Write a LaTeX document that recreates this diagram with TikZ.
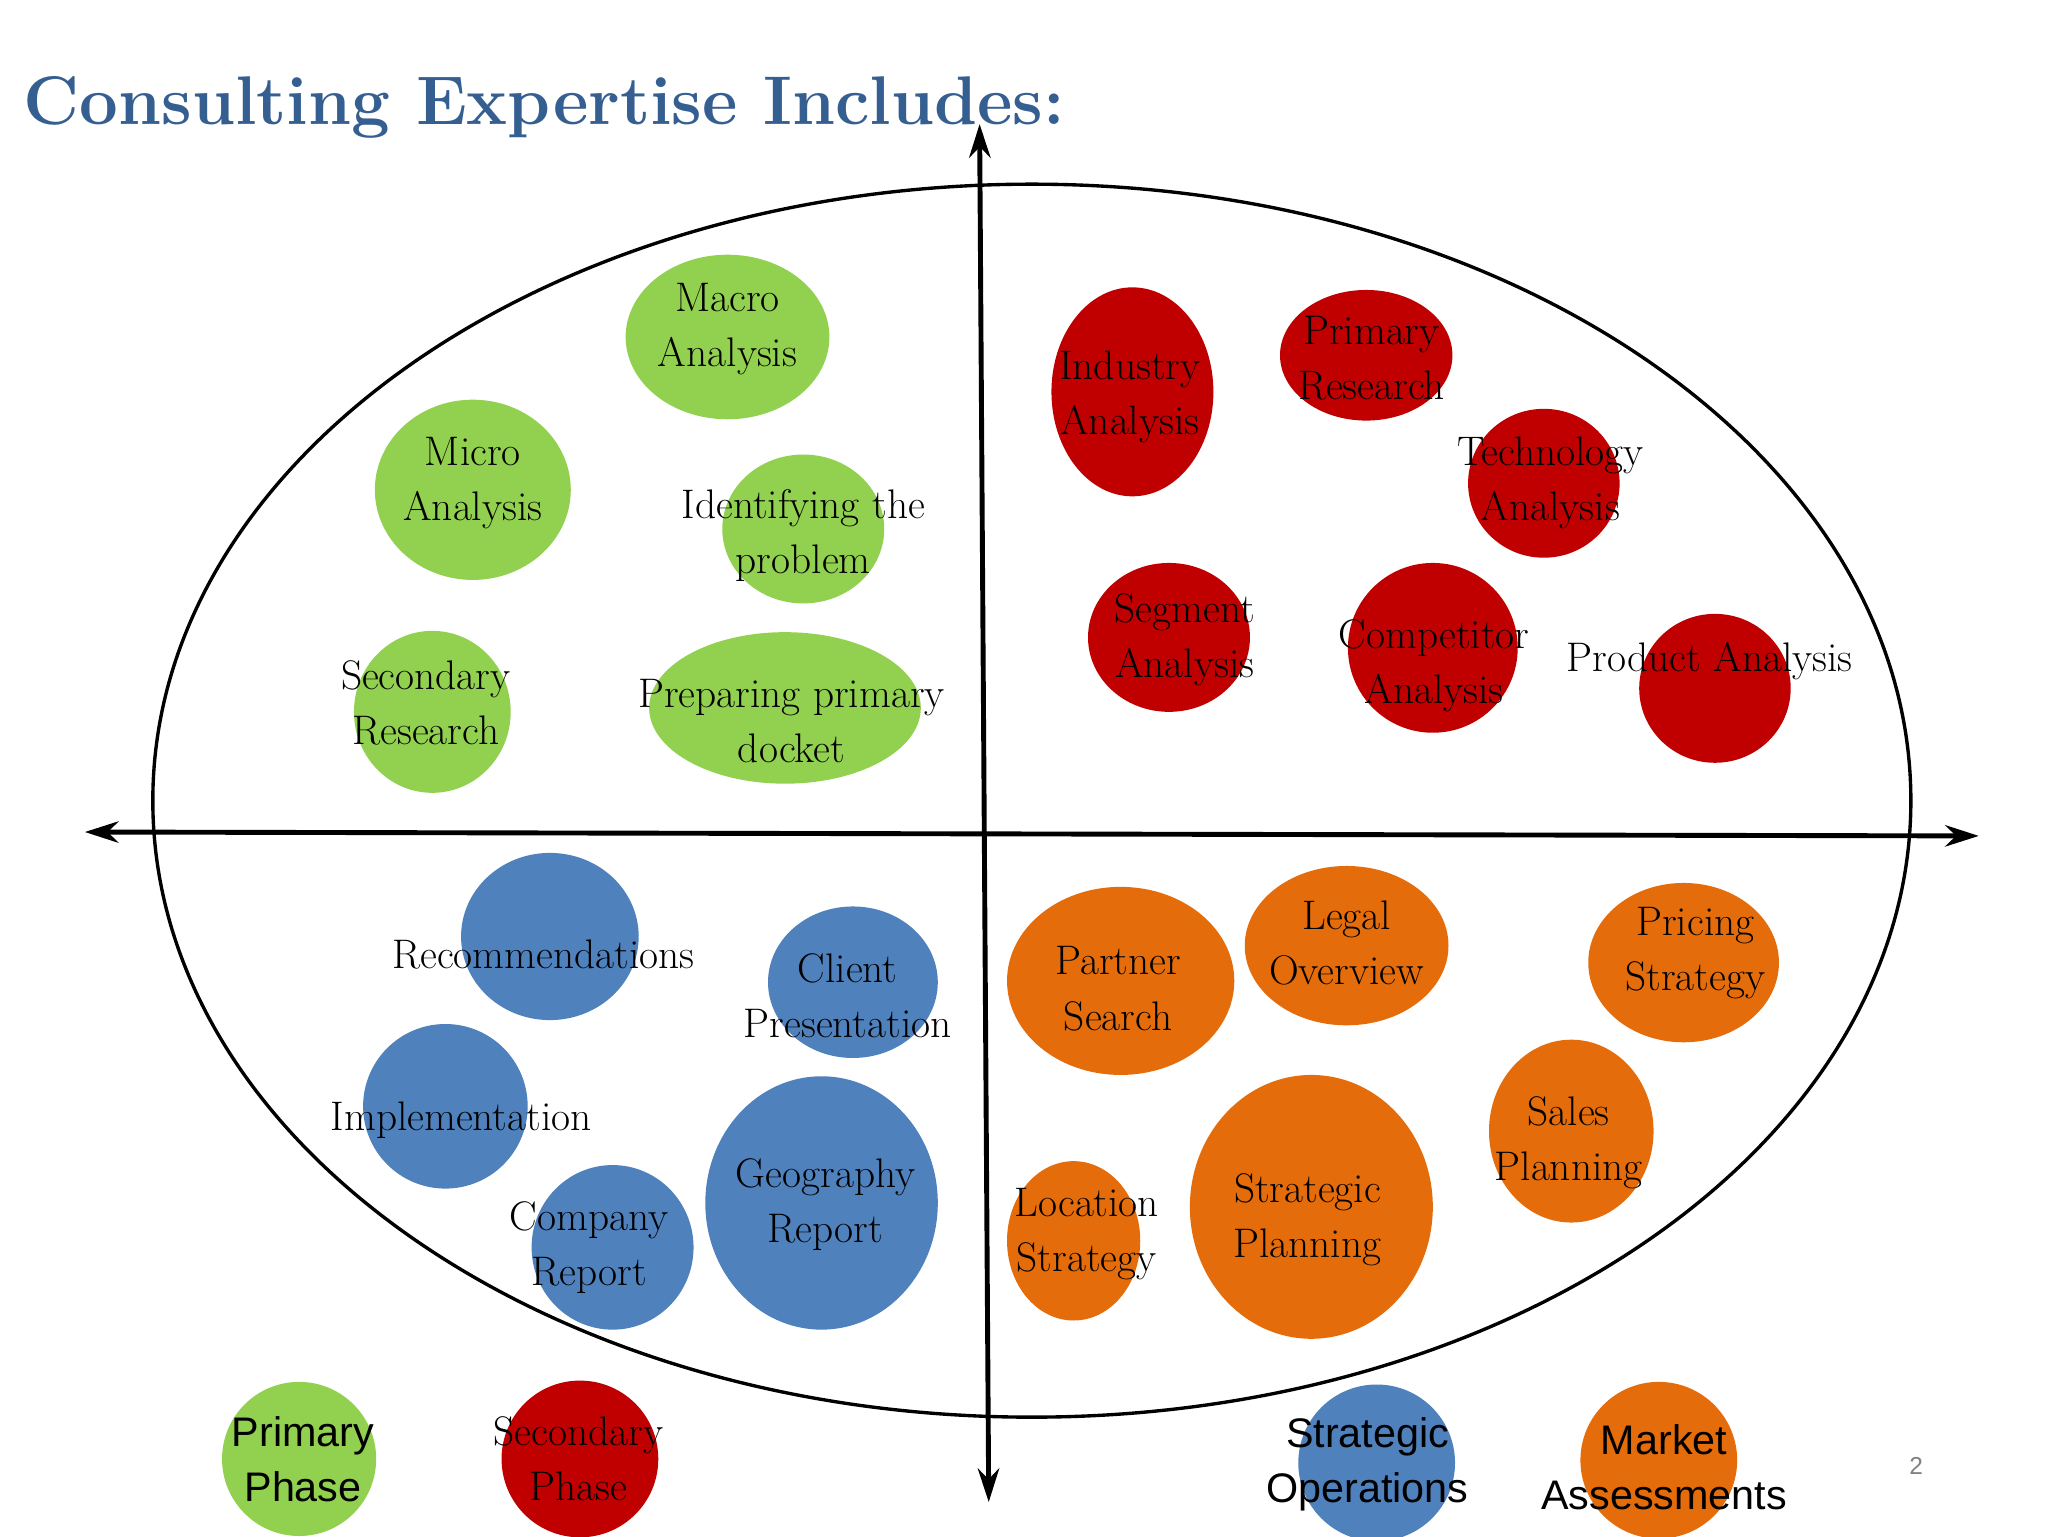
\documentclass[tikz,border=0pt]{standalone}
\usepackage{fontspec}
\newfontfamily\legendfont{Liberation Sans}
\usetikzlibrary{arrows.meta}
\definecolor{cgreen}{HTML}{92D050}
\definecolor{cred}{HTML}{C00000}
\definecolor{cblue}{HTML}{4F81BD}
\definecolor{corange}{HTML}{E46C0A}
\definecolor{ctitle}{HTML}{365F91}
\newcommand\blob[4]{\fill[#1] (#2) ellipse [x radius=#3, y radius=#4];}
\begin{document}
\begin{tikzpicture}[x=0.03cm,y=-0.03cm,
  lbl/.style={align=center,font=\fontsize{27}{36}\selectfont,inner sep=0pt},
  leg/.style={align=center,font=\legendfont\fontsize{27}{36}\selectfont,inner sep=0pt},
  axis/.style={line width=3.2pt,{Stealth[length=22pt,width=14pt]}-{Stealth[length=22pt,width=14pt]}}]
\useasboundingbox (0,0) rectangle (1568,1176);
\fill[white] (0,0) rectangle (1568,1176);
\coordinate (E) at (790,613);
\draw[line width=2.2pt] (E) ellipse [x radius=673, y radius=472];
\blob{cgreen}{557,258}{78}{63}
\blob{cgreen}{362,375}{75}{69}
\blob{cgreen}{615,405}{62}{57}
\blob{cgreen}{331,545}{60}{62}
\blob{cgreen}{601,542}{104}{58}
\blob{cred}{867,300}{62}{80}
\blob{cred}{1046,272}{66}{50}
\blob{cred}{1182,370}{58}{57}
\blob{cred}{895,488}{62}{57}
\blob{cred}{1097,496}{65}{65}
\blob{cred}{1313,527}{58}{57}
\blob{cblue}{421,717}{68}{64}
\blob{cblue}{653,752}{65}{58}
\blob{cblue}{341,847}{63}{63}
\blob{cblue}{469,955}{62}{63}
\blob{cblue}{629,921}{89}{97}
\blob{corange}{858,751}{87}{72}
\blob{corange}{1031,724}{78}{61}
\blob{corange}{1289,737}{73}{61}
\blob{corange}{1203,866}{63}{70}
\blob{corange}{822,950}{51}{61}
\blob{corange}{1004,924}{93}{101}
\blob{cgreen}{229,1117}{59}{59}
\blob{cred}{444,1117}{60}{60}
\blob{cblue}{1054,1120}{60}{60}
\blob{corange}{1270,1118}{60}{60}
\coordinate (vt) at (750,95);
\coordinate (vb) at (757,1150);
\coordinate (hl) at (65,637);
\coordinate (hr) at (1515,640);
\draw[axis] (vb) -- (vt);
\draw[axis] (hl) -- (hr);
\node[anchor=base west,inner sep=0pt,font=\bfseries\fontsize{45}{54}\selectfont,text=ctitle] (title) at (18,95) {Consulting Expertise Includes:};
\node[lbl] (t1) at (557,252) {Macro\\Analysis};
\node[lbl] (t2) at (362,370) {Micro\\Analysis};
\node[lbl] (t3) at (615,410) {Identifying the\\problem};
\node[lbl] (t4) at (326,538) {Secondary\\Research};
\node[lbl] (t5) at (606,552) {Preparing primary\\docket};
\node[lbl] (t6) at (865,304) {Industry\\Analysis};
\node[lbl] (t7) at (1050,274) {Primary\\Research};
\node[lbl] (t8) at (1187,370) {Technology\\Analysis};
\node[lbl] (t9) at (907,490) {Segment\\Analysis};
\node[lbl] (t10) at (1098,510) {Competitor\\Analysis};
\node[lbl] (t11) at (1309,506) {Product Analysis};
\node[lbl] (t12) at (416,731) {Recommendations};
\node[lbl] (t13) at (649,762) {Client\\Presentation};
\node[lbl] (t14) at (353,858) {Implementation};
\node[lbl] (t15) at (451,955) {Company\\Report};
\node[lbl] (t16) at (632,922) {Geography\\Report};
\node[lbl] (t17) at (856,757) {Partner\\Search};
\node[lbl] (t18) at (1031,722) {Legal\\Overview};
\node[lbl] (t19) at (1298,730) {Pricing\\Strategy};
\node[lbl] (t20) at (1201,875) {Sales\\Planning};
\node[lbl] (t21) at (832,945) {Location\\Strategy};
\node[lbl] (t22) at (1001,934) {Strategic\\Planning};
\node[leg] (l1) at (232,1117) {Primary\\Phase};
\node[lbl] (l2) at (443,1117) {Secondary\\Phase};
\node[leg] (l3) at (1047,1121) {Strategic\\Operations};
\node[leg] (l4) at (1274,1123) {Market\\Assessments};
\node[text=gray,font=\legendfont\fontsize{16}{18}\selectfont] (pg) at (1467,1122) {2};
\end{tikzpicture}
\end{document}
